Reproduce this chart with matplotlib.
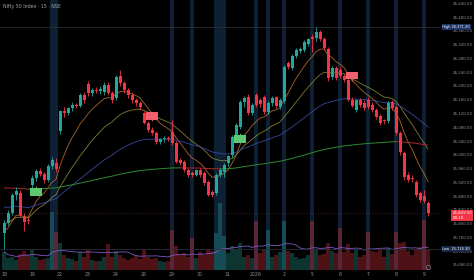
import numpy as np
import pandas as pd
import matplotlib
matplotlib.use("Agg")
import matplotlib.pyplot as plt
from matplotlib.patches import Rectangle
from matplotlib.collections import LineCollection
from matplotlib.transforms import blended_transform_factory

# trading days shown on the x axis (7 bars per session)
days = ["18", "19", "22", "23", "24", "26", "29", "30", "31", "2026",
        "2", "5", "6", "7", "8", "9"]
bars_per_day = 7

opens = [25773, 25802, 25831, 25883, 25890, 25822, 25812,
         25912, 25933, 25953, 25944, 25927, 25967, 25975,
         26070, 26127, 26120, 26135, 26145, 26142, 26173,
         26205, 26180, 26188, 26184, 26182, 26203, 26180,
         26165, 26228, 26208, 26188, 26173, 26159, 26150,
         26121, 26092, 26072, 26063, 26037, 26045, 26048,
         26066, 26034, 25985, 25979, 25956, 25947, 25941,
         25956, 25947, 25921, 25892, 25889, 25941, 25950,
         25976, 25999, 26052, 26081, 26153, 26168, 26121,
         26173, 26159, 26168, 26124, 26150, 26168, 26138,
         26155, 26266, 26252, 26287, 26301, 26304, 26321,
         26342, 26339, 26356, 26336, 26307, 26226, 26252,
         26246, 26229, 26217, 26159, 26130, 26159, 26150,
         26159, 26145, 26130, 26112, 26101, 26098, 26153,
         26139, 26063, 26005, 25941, 25932, 25921, 25889,
         25880, 25860]
highs = [25812, 25840, 25890, 25905, 25898, 25830, 25820,
         25940, 25960, 25962, 25950, 25972, 25995, 25990,
         26130, 26140, 26140, 26152, 26150, 26180, 26182,
         26215, 26195, 26196, 26200, 26210, 26210, 26186,
         26232, 26245, 26215, 26195, 26180, 26165, 26156,
         26128, 26098, 26080, 26068, 26050, 26055, 26054,
         26102, 26040, 25992, 25985, 25962, 25952, 25960,
         25962, 25952, 25926, 25898, 25946, 25962, 25975,
         26000, 26058, 26092, 26160, 26172, 26176, 26150,
         26180, 26165, 26175, 26155, 26170, 26172, 26165,
         26262, 26272, 26292, 26310, 26312, 26332, 26340,
         26350, 26371.2, 26362, 26342, 26312, 26258, 26258,
         26255, 26236, 26222, 26168, 26162, 26165, 26158,
         26168, 26152, 26136, 26118, 26105, 26156, 26160,
         26145, 26070, 26012, 25950, 25940, 25928, 25896,
         25898, 25866]
lows = [25726.3, 25795, 25825, 25870, 25820, 25780, 25800,
        25890, 25925, 25938, 25918, 25920, 25960, 25950,
        26060, 26110, 26115, 26128, 26135, 26138, 26150,
        26172, 26170, 26178, 26176, 26175, 26175, 26150,
        26160, 26200, 26180, 26165, 26150, 26143, 26130,
        26088, 26065, 26058, 26030, 26030, 26038, 26040,
        26028, 25975, 25970, 25950, 25935, 25935, 25938,
        25935, 25912, 25880, 25876, 25884, 25935, 25935,
        25968, 25992, 26045, 26075, 26140, 26115, 26115,
        26140, 26140, 26118, 26118, 26142, 26136, 26132,
        26150, 26248, 26245, 26280, 26295, 26298, 26315,
        26298, 26330, 26330, 26305, 26215, 26220, 26218,
        26222, 26212, 26155, 26138, 26125, 26140, 26130,
        26134, 26125, 26104, 26086, 26090, 26092, 26130,
        26058, 26000, 25928, 25920, 25922, 25878, 25862,
        25860, 25822]
closes = [25802, 25831, 25883, 25895, 25825, 25806, 25808,
          25933, 25953, 25944, 25927, 25967, 25985, 25960,
          26127, 26120, 26135, 26145, 26142, 26173, 26159,
          26180, 26188, 26184, 26192, 26203, 26180, 26159,
          26226, 26208, 26188, 26173, 26159, 26150, 26138,
          26092, 26072, 26063, 26037, 26045, 26050, 26046,
          26034, 25979, 25976, 25956, 25941, 25941, 25956,
          25941, 25918, 25883, 25883, 25941, 25956, 25970,
          25996, 26052, 26086, 26153, 26165, 26121, 26145,
          26145, 26148, 26124, 26150, 26165, 26142, 26159,
          26255, 26255, 26287, 26304, 26307, 26327, 26336,
          26336, 26356, 26336, 26310, 26223, 26252, 26223,
          26229, 26217, 26159, 26142, 26159, 26145, 26136,
          26139, 26130, 26110, 26092, 26098, 26150, 26136,
          26063, 26008, 25935, 25927, 25930, 25883, 25869,
          25866, 25829.5]
volumes = [27, 18, 20, 15, 24, 28, 22,
           30, 20, 15, 16, 18, 86, 56,
           40, 22, 18, 16, 14, 26, 20,
           30, 15, 14, 14, 20, 38, 20,
           28, 22, 18, 15, 18, 22, 16,
           30, 20, 16, 18, 14, 12, 14,
           60, 35, 22, 25, 20, 48, 18,
           26, 22, 30, 28, 55, 99, 50,
           25, 35, 30, 40, 20, 22, 18,
           72, 25, 30, 60, 20, 22, 26,
           72, 28, 25, 20, 16, 18, 22,
           72, 30, 22, 24, 40, 28, 25,
           62, 26, 38, 25, 30, 20, 22,
           56, 28, 26, 30, 20, 32, 24,
           56, 40, 42, 28, 22, 30, 34,
           74, 30]

buy_signals = [(8, 25892), (59, 26046)]
sell_signals = [(37, 26113), (87, 26230)]

price_ticks = list(range(25680, 26441, 40))
high_value = 26371.20
low_value = 25726.30
volume_threshold = 45

up_col = "#26a69a"
down_col = "#f23645"

o = np.array(opens, dtype=float)
h = np.array(highs, dtype=float)
l = np.array(lows, dtype=float)
c = np.array(closes, dtype=float)
v = np.array(volumes, dtype=float)
x = np.arange(len(c))
up = c >= o
colors = np.where(up, up_col, down_col)


def ema(values, span, seed):
    s = pd.Series([seed] + list(values))
    return s.ewm(span=span, adjust=False).mean().to_numpy()[1:]


ema_fast = ema(c, 9, 25770)
ema_mid = ema(c, 21, 25800)
ema_50 = ema(c, 50, 25850)
ema_200 = ema(c, 200, 25905)
vol_ma = pd.Series(v).rolling(20, min_periods=1).mean()

fig = plt.figure(figsize=(4.74, 2.80), dpi=100, facecolor="black")
ax2 = fig.add_axes([0, 10 / 280, 441 / 474, 270 / 280])
ax = fig.add_axes([0, 10 / 280, 441 / 474, 270 / 280], sharex=ax2)
ax2.set_facecolor("black")
ax.patch.set_visible(False)

# volume pane + high-volume highlight stripes
for i in x[v > volume_threshold]:
    ax2.axvspan(i - 0.6, i + 0.6, color="#0e2034", lw=0, zorder=0)
ax2.bar(x, v, width=0.8, color=colors, alpha=0.32, zorder=1)
ax2.plot(x, vol_ma, color="#7e57c2", lw=0.6, zorder=2)
ax2.set_ylim(0, 400)
ax2.set_yticks([])

# reference lines
ax.axhline(high_value, color="#2a2e39", lw=0.6, zorder=1)
ax.axhline(low_value, color="#2a2e39", lw=0.6, zorder=1)
ax.axhline(c[-1], color="#5a2228", lw=0.5, ls=(0, (1, 1.5)), zorder=1)

# moving averages
ax.plot(x, ema_fast, color="#c9742f", lw=0.6, alpha=0.85, zorder=2)
ax.plot(x, ema_mid, color="#9e9a3c", lw=0.6, alpha=0.8, zorder=2)
ax.plot(x, ema_50, color="#3d4fb0", lw=0.6, alpha=0.9, zorder=2)
segs = [[(x[i], ema_200[i]), (x[i + 1], ema_200[i + 1])] for i in range(len(x) - 1)]
seg_cols = ["#2f8a36" if c[i + 1] > ema_200[i + 1] else "#b3262e" for i in range(len(x) - 1)]
ax.add_collection(LineCollection(segs, colors=seg_cols, linewidths=0.7, zorder=2))

# candles
ax.vlines(x, l, h, color=colors, lw=0.6, zorder=3)
body = np.maximum(np.abs(c - o), 2.5)
ax.bar(x, body, bottom=np.minimum(o, c), width=0.75, color=colors, lw=0, zorder=4)

# signal labels
for i, p in buy_signals:
    ax.add_patch(Rectangle((i - 1.4, p - 11), 2.8, 22, color="#5cc872", lw=0, zorder=5))
    ax.plot(i, p + 13, marker="^", ms=1.6, color="#5cc872", mew=0, zorder=5)
for i, p in sell_signals:
    ax.add_patch(Rectangle((i - 1.4, p - 11), 2.8, 22, color="#f0616d", lw=0, zorder=5))
    ax.plot(i, p - 13, marker="v", ms=1.6, color="#f0616d", mew=0, zorder=5)

ax.set_xlim(-1, 109.25)
ax.set_ylim(25665.4, 26449.5)

ax.yaxis.tick_right()
ax.set_yticks(price_ticks)
ax.set_yticklabels([f"{t:,.2f}" for t in price_ticks])
ax.tick_params(axis="y", length=0, pad=8.6, labelsize=2.9, labelcolor="#8f929b")
ax.set_xticks([d * bars_per_day for d in range(len(days))])
ax.set_xticklabels(days)
ax.tick_params(axis="x", length=0, pad=1.5, labelsize=3.3, labelcolor="#8f929b")
ax2.tick_params(axis="x", length=0, labelbottom=False)
for a in (ax, ax2):
    for s in a.spines.values():
        s.set_visible(False)

ax.text(0.006, 0.985, "Nifty 50 Index · 15 · NSE", transform=ax.transAxes,
        va="top", ha="left", fontsize=3.4, color="#a3a6af")

tr = blended_transform_factory(ax.transAxes, ax.transData)
ax.text(1.003, high_value, "High 26,371.20", transform=tr, va="center", ha="left",
        fontsize=2.6, color="white", clip_on=False, zorder=6,
        bbox=dict(boxstyle="square,pad=0.2", fc="#1d3566", ec="none"))
ax.text(1.003, low_value, "Low  25,726.30", transform=tr, va="center", ha="left",
        fontsize=2.6, color="white", clip_on=False, zorder=6,
        bbox=dict(boxstyle="square,pad=0.2", fc="#1a2a4a", ec="none"))
ax.text(1.026, c[-1] - 6, "25,829.50\n00:10", transform=tr, va="center", ha="left",
        fontsize=2.8, color="white", clip_on=False, zorder=6, linespacing=1.1,
        bbox=dict(boxstyle="square,pad=0.3", fc="#f23645", ec="none"))

ax.plot(428 / 441, 3.5 / 270, transform=ax.transAxes, marker="o", ms=3.2,
        mfc="none", mec="#8f929b", mew=0.4, clip_on=False, zorder=6)

fig.savefig("out.png", dpi=100, facecolor="black")
